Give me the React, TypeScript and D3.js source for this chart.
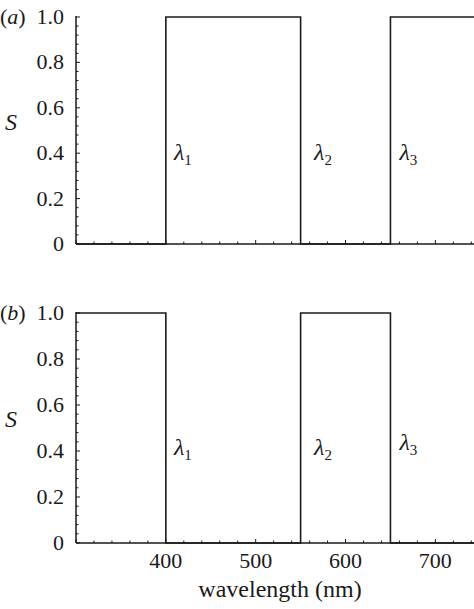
import * as d3 from "d3";

// band edges along wavelength (nm) and the S value inside each band
const edges = [300, 400, 550, 650, 743];
const sA = [0, 1, 0, 1];
const sB = [1, 0, 1, 0];
const yTicks = [0, 0.2, 0.4, 0.6, 0.8, 1.0];
const xTicks = [400, 500, 600, 700];
const lambdaNames = ["1", "2", "3"];
const lambdaAt = [409, 565, 660]; // nm where the λ labels sit

const W = 474;
const H = 609;
const left = 76;
const right = 474;
const font = "Liberation Serif, Times New Roman, Tinos, DejaVu Serif, serif";
const ink = "#1a1a1a";

const x = d3.scaleLinear().domain([300, 743]).range([left, right]);

function stepPoints(s: number[]): [number, number][] {
  const pts: [number, number][] = s.map((v, i) => [edges[i], v]);
  pts.push([edges[edges.length - 1], s[s.length - 1]]);
  return pts;
}

function Panel({
  s,
  top,
  bottom,
  tag,
  lambdaY,
  showX,
}: {
  s: number[];
  top: number;
  bottom: number;
  tag: string;
  lambdaY: number[];
  showX: boolean;
}) {
  const y = d3.scaleLinear().domain([0, 1]).range([bottom, top]);
  const line = d3
    .line<[number, number]>()
    .x((d) => x(d[0]))
    .y((d) => y(d[1]))
    .curve(d3.curveStepAfter);
  const yMinor = d3.range(0, 1.0001, 0.04);
  const xMinor = d3.range(300, 743, 20);

  return (
    <g style={{ fontFamily: font }}>
      {/* axes */}
      <line x1={left} x2={left} y1={top - 1} y2={bottom} stroke={ink} strokeWidth={1.5} />
      <line x1={left} x2={right} y1={bottom} y2={bottom} stroke={ink} strokeWidth={1.5} />
      {yMinor.map((v, i) => {
        const major = i % 5 === 0;
        return (
          <line
            key={"ym" + i}
            x1={left}
            x2={left + (major ? 4 : 2.5)}
            y1={y(v)}
            y2={y(v)}
            stroke={ink}
            strokeWidth={1}
          />
        );
      })}
      {xMinor.map((v, i) => {
        const major = v % 100 === 0;
        return (
          <line
            key={"xm" + i}
            x1={x(v)}
            x2={x(v)}
            y1={bottom}
            y2={bottom - (major ? 4 : 2.5)}
            stroke={ink}
            strokeWidth={1}
          />
        );
      })}
      {yTicks.map((v) => (
        <text key={"yt" + v} x={64} y={y(v) + 7} textAnchor="end" fontSize={22} fill={ink}>
          {v === 0 ? "0" : v.toFixed(1)}
        </text>
      ))}
      {showX &&
        xTicks.map((v) => (
          <text
            key={"xt" + v}
            x={x(v)}
            y={bottom + 25}
            textAnchor="middle"
            fontSize={22}
            fill={ink}
          >
            {v}
          </text>
        ))}
      <text x={0} y={top + 7} fontSize={22} fill={ink}>
        (<tspan fontStyle="italic">{tag}</tspan>)
      </text>
      <text x={5} y={(top + bottom) / 2 - 1} fontStyle="italic" fontSize={24} fill={ink}>
        S
      </text>
      {lambdaNames.map((n, i) => (
        <text key={"l" + n} x={x(lambdaAt[i])} y={lambdaY[i]} fontSize={24} fill={ink}>
          <tspan fontStyle="italic">λ</tspan>
          <tspan fontSize={15} dy={5}>
            {n}
          </tspan>
        </text>
      ))}
      <path d={line(stepPoints(s)) ?? ""} fill="none" stroke={ink} strokeWidth={1.6} />
    </g>
  );
}

export default function App() {
  return (
    <div style={{ position: "absolute", left: 0, top: 0 }}>
      <svg width={W} height={H} style={{ display: "block", background: "#fff" }}>
        <Panel s={sA} top={17} bottom={244} tag="a" lambdaY={[160, 160, 160]} showX={false} />
        <Panel s={sB} top={313} bottom={543} tag="b" lambdaY={[455, 455, 450]} showX={true} />
        <text
          x={280}
          y={597}
          textAnchor="middle"
          fontSize={24}
          fill={ink}
          style={{ fontFamily: font }}
        >
          wavelength (nm)
        </text>
      </svg>
    </div>
  );
}
